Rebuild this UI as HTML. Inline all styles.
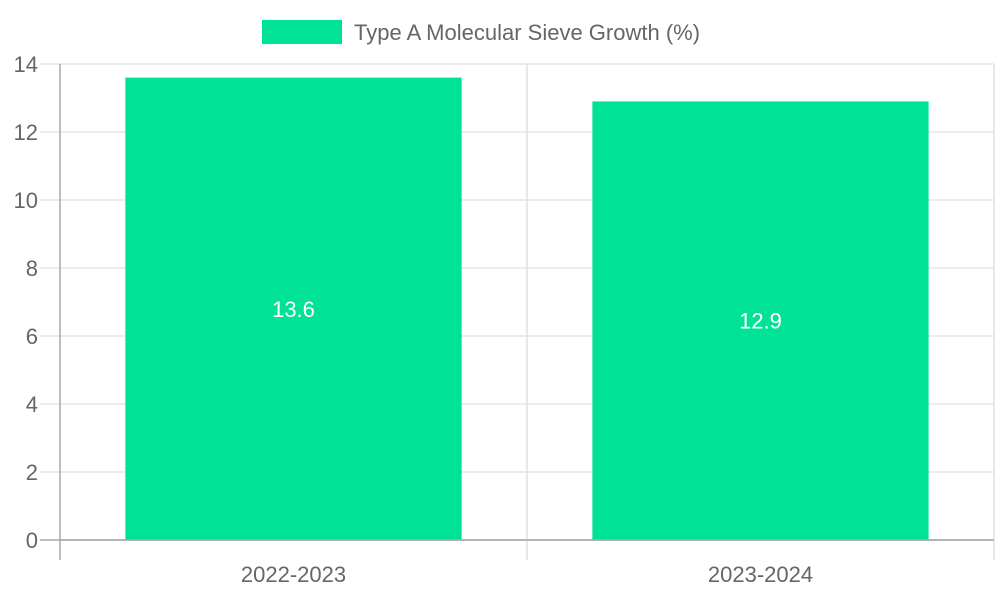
<!DOCTYPE html>
<html><head><meta charset="utf-8"><style>
body{margin:0;background:#fff;font-family:"Liberation Sans",sans-serif;}
</style></head><body>
<svg id="c" width="1000" height="600" xmlns="http://www.w3.org/2000/svg"></svg>
<script>
const categories=["2022-2023","2023-2024"];
const values=[13.6,12.9];
const yTicks=[0,2,4,6,8,10,12,14];
const seriesName="Type A Molecular Sieve Growth (%)";
const svg=document.getElementById('c');
const NS="http://www.w3.org/2000/svg";
const L=60,R=994,T=64,B=540,yMax=14;
const y=v=>B-(v/yMax)*(B-T);
const cw=(R-L)/categories.length;
const x=i=>L+cw*i;
function el(t,a,p){const e=document.createElementNS(NS,t);for(const k in a)e.setAttribute(k,a[k]);(p||svg).appendChild(e);return e;}
// legend
let lg=el('rect',{x:262,y:20,width:80,height:24,fill:'#00e396'});


let lt=el('text',{x:354,y:40,'font-size':22,fill:'#666'});lt.textContent=seriesName;


// horizontal grid + y labels
yTicks.forEach(v=>{
 const g=el('line',{x1:40,x2:R,y1:y(v),y2:y(v),stroke:v===0?'#aaa':'#e5e5e5','stroke-width':v===0?1.5:1.5});
 
 
 const t=el('text',{x:38,y:y(v)+8,'font-size':22,fill:'#666','text-anchor':'end'});t.textContent=v;
 
 
});
// vertical grid
for(let i=0;i<=categories.length;i++){
 const g=el('line',{x1:x(i),x2:x(i),y1:T,y2:560,stroke:i===0?'#aaa':'#e0e0e0','stroke-width':1.5});
 
 
}
// bars
const bw=cw*0.72;
categories.forEach((c,i)=>{
 const cx=x(i)+cw/2;
 const b=el('rect',{x:cx-bw/2,y:y(values[i]),width:bw,height:B-y(values[i]),fill:'#00e396'});
 
 
 const v=el('text',{x:cx,y:(y(values[i])+B)/2+8,'font-size':22,fill:'#fff','text-anchor':'middle'});v.textContent=values[i];
 
 
 const t=el('text',{x:cx,y:582,'font-size':22,fill:'#666','text-anchor':'middle'});t.textContent=c;
 
 
});
const ax=el('line',{x1:L,x2:R,y1:B,y2:B,stroke:'#aaa','stroke-width':1.5});


</script>
</body></html>
